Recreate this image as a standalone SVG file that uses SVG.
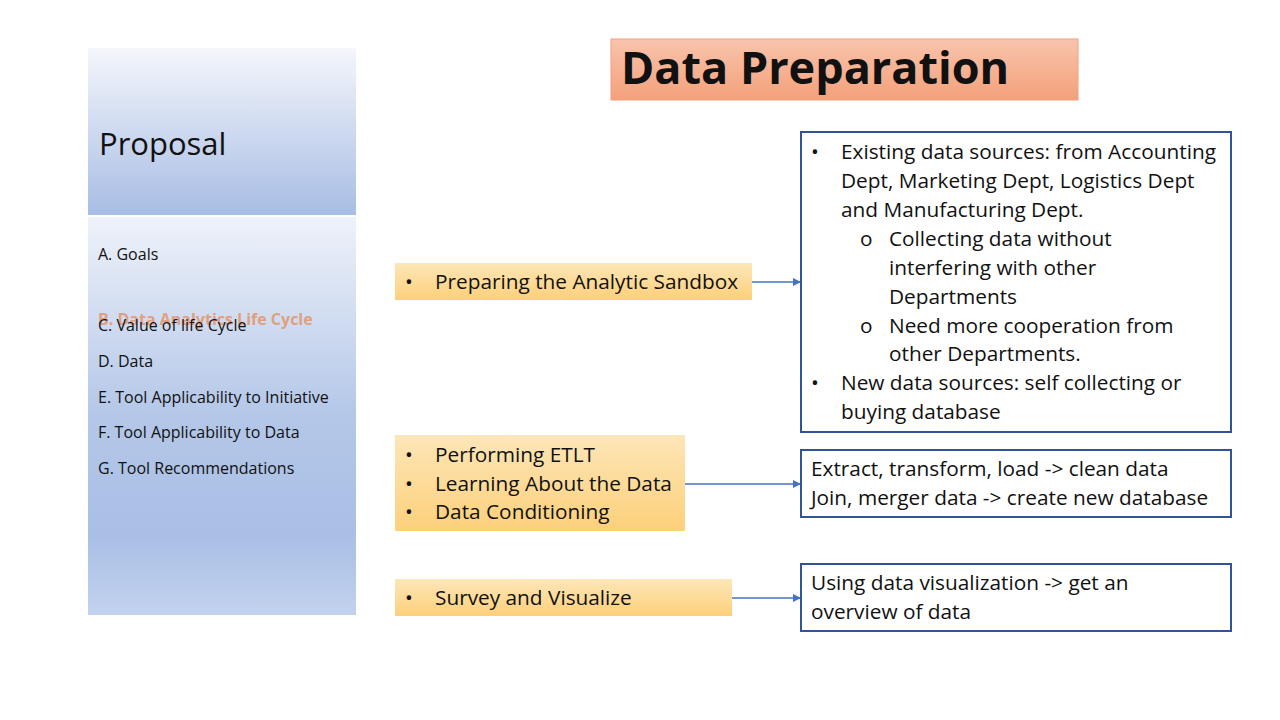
<svg xmlns="http://www.w3.org/2000/svg" width="1280" height="720" viewBox="0 0 1280 720">
<defs>
<linearGradient id="gTop" x1="0" y1="0" x2="0" y2="1"><stop offset="0" stop-color="#f4f6fb"/><stop offset="1" stop-color="#a8bde4"/></linearGradient>
<linearGradient id="gBot" x1="0" y1="0" x2="0" y2="1"><stop offset="0" stop-color="#eef2fa"/><stop offset="0.5" stop-color="#b4c7e8"/><stop offset="0.8" stop-color="#a9bfe5"/><stop offset="1" stop-color="#c3d2ee"/></linearGradient>
<linearGradient id="gTitle" x1="0" y1="0" x2="0" y2="1"><stop offset="0" stop-color="#f8c4ac"/><stop offset="1" stop-color="#f4a07a"/></linearGradient>
<linearGradient id="gOr" x1="0" y1="0" x2="0" y2="1"><stop offset="0" stop-color="#fde6b8"/><stop offset="1" stop-color="#fdd07a"/></linearGradient>
<marker id="ah" markerWidth="8" markerHeight="8" refX="7" refY="4" orient="auto" markerUnits="userSpaceOnUse"><path d="M0,0 L8,4 L0,8 z" fill="#4472c4"/></marker>
</defs>
<style>
text{font-family:"Open Sans","Liberation Sans",sans-serif;fill:#111}
.l{font-size:16px}
.b{font-size:20.8px}
.box{fill:#fff;stroke:#2f5597;stroke-width:2}
.or{fill:url(#gOr)}
.con{stroke:#4472c4;stroke-width:1.5;fill:none;marker-end:url(#ah)}
</style>
<rect width="1280" height="720" fill="#fff"/>
<g id="leftpanel">
<rect x="88" y="48" width="268" height="167" fill="url(#gTop)"/>
<rect x="88" y="217" width="268" height="398" fill="url(#gBot)"/>
<text x="99" y="155" font-size="31">Proposal</text>
<text class="l" x="98" y="260">A. Goals</text>
<text x="98" y="325" font-size="16" font-weight="bold" style="fill:#e0a080">B. Data Analytics Life Cycle</text>
<text class="l" x="98" y="331">C. Value of life Cycle</text>
<text class="l" x="98" y="367">D. Data</text>
<text class="l" x="98" y="403">E. Tool Applicability to Initiative</text>
<text class="l" x="98" y="438">F. Tool Applicability to Data</text>
<text class="l" x="98" y="474">G. Tool Recommendations</text>
</g>
<g id="title">
<rect x="611" y="39" width="467" height="61" fill="url(#gTitle)" stroke="#f0a080"/>
<text x="621" y="84" font-size="45" font-weight="bold">Data Preparation</text>
</g>
<g id="n1">
<rect class="or" x="395" y="263" width="357" height="37"/>
<text class="b" x="405" y="289">•</text><text class="b" x="435" y="289">Preparing the Analytic Sandbox</text>
</g>
<g id="n2">
<rect class="or" x="395" y="435" width="290" height="96"/>
<text class="b" x="405" y="462">•</text><text class="b" x="435" y="462">Performing ETLT</text>
<text class="b" x="405" y="491">•</text><text class="b" x="435" y="491">Learning About the Data</text>
<text class="b" x="405" y="519">•</text><text class="b" x="435" y="519">Data Conditioning</text>
</g>
<g id="n3">
<rect class="or" x="395" y="579" width="337" height="37"/>
<text class="b" x="405" y="605">•</text><text class="b" x="435" y="605">Survey and Visualize</text>
</g>
<g id="r1">
<rect class="box" x="801" y="132" width="430" height="300"/>
<text class="b" x="811" y="159">•</text><text class="b" x="841" y="159">Existing data sources: from Accounting</text>
<text class="b" x="841" y="188">Dept, Marketing Dept, Logistics Dept</text>
<text class="b" x="841" y="217">and Manufacturing Dept.</text>
<text class="b" x="860" y="246">o</text><text class="b" x="889" y="246">Collecting data without</text>
<text class="b" x="889" y="275">interfering with other</text>
<text class="b" x="889" y="304">Departments</text>
<text class="b" x="860" y="333">o</text><text class="b" x="889" y="333">Need more cooperation from</text>
<text class="b" x="889" y="361">other Departments.</text>
<text class="b" x="811" y="390">•</text><text class="b" x="841" y="390">New data sources: self collecting or</text>
<text class="b" x="841" y="419">buying database</text>
</g>
<g id="r2">
<rect class="box" x="801" y="450" width="430" height="67"/>
<text class="b" x="811" y="476">Extract, transform, load -&gt; clean data</text>
<text class="b" x="811" y="505">Join, merger data -&gt;  create new database</text>
</g>
<g id="r3">
<rect class="box" x="801" y="564" width="430" height="67"/>
<text class="b" x="811" y="590">Using data visualization -&gt; get an</text>
<text class="b" x="811" y="619">overview of data</text>
</g>
<g id="connectors">
<line class="con" x1="752" y1="282" x2="800" y2="282"/>
<line class="con" x1="685" y1="484" x2="800" y2="484"/>
<line class="con" x1="732" y1="598" x2="800" y2="598"/>
</g>
</svg>
